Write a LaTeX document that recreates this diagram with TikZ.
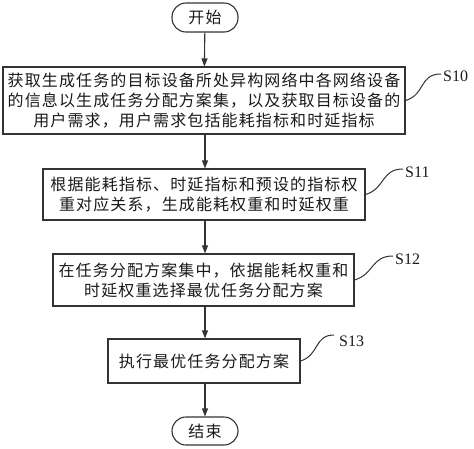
\documentclass[tikz,border=0pt]{standalone}
\usepackage{fontspec}
\setmainfont{Liberation Serif}
\newfontfamily\cjk{Noto Sans CJK SC}[LetterSpace=7]
\usetikzlibrary{arrows.meta,calc}
\definecolor{linec}{HTML}{333333}
\definecolor{txtc}{HTML}{1A1A1A}
\begin{document}
\begin{tikzpicture}[x=1pt,y=-1pt,
  box/.style={draw=linec,line width=1.1pt,align=center,inner sep=0pt,
    text=txtc,font=\cjk\fontsize{16}{20}\selectfont},
  term/.style={box,rounded corners=14pt},
  arr/.style={draw=linec,line width=1.1pt,-{Triangle[length=8pt,width=6pt]}},
  lab/.style={anchor=west,inner sep=0pt,text=txtc,font=\fontsize{16}{18}\selectfont},
  tie/.style={draw=linec,line width=1pt}]
\useasboundingbox (0,0) rectangle (474,448);
\node[term,minimum width=66pt,minimum height=29pt] (start) at (205,17.5) {开始};
\node[box,minimum width=402pt,minimum height=67pt] (b1) at (204,100.5)
  {获取生成任务的目标设备所处异构网络中各网络设备\\
   的信息以生成任务分配方案集，以及获取目标设备的\\
   用户需求，用户需求包括能耗指标和时延指标};
\node[box,minimum width=322pt,minimum height=51pt] (b2) at (204,194.5)
  {根据能耗指标、时延指标和预设的指标权\\重对应关系，生成能耗权重和时延权重};
\node[box,minimum width=301pt,minimum height=52pt] (b3) at (203.5,280)
  {在任务分配方案集中，依据能耗权重和\\时延权重选择最优任务分配方案};
\node[box,minimum width=192pt,minimum height=44pt] (b4) at (204,361)
  {执行最优任务分配方案};
\node[term,minimum width=66pt,minimum height=28pt] (end) at (205,431) {结束};

\draw[arr] (start) -- (b1);
\draw[arr] (b1.south -| start) -- (b2.north -| start);
\draw[arr] (b2.south -| start) -- (b3.north -| start);
\draw[arr] (b3.south -| start) -- (b4.north -| start);
\draw[arr] (b4.south -| start) -- (end);

\coordinate (e10) at (441,74);
\coordinate (e11) at (403,169);
\coordinate (e12) at (393,256);
\coordinate (e13) at (334,335);
\node[lab] (s10) at ($(e10)+(2,2)$) {S10};
\node[lab] (s11) at ($(e11)+(2,3)$) {S11};
\node[lab] (s12) at ($(e12)+(2,3)$) {S12};
\node[lab] (s13) at ($(e13)+(5,6)$) {S13};
\draw[tie] (b1.east) .. controls ($(b1.east)+(20,-6)$) and ($(e10)+(-22,0)$) .. (e10);
\draw[tie] (b2.east) .. controls ($(b2.east)+(20,-6)$) and ($(e11)+(-22,0)$) .. (e11);
\draw[tie] (b3.east) .. controls ($(b3.east)+(20,-6)$) and ($(e12)+(-22,0)$) .. (e12);
\draw[tie] (b4.east) .. controls ($(b4.east)+(19,-6)$) and ($(e13)+(-20,0)$) .. (e13);
\end{tikzpicture}
\end{document}
